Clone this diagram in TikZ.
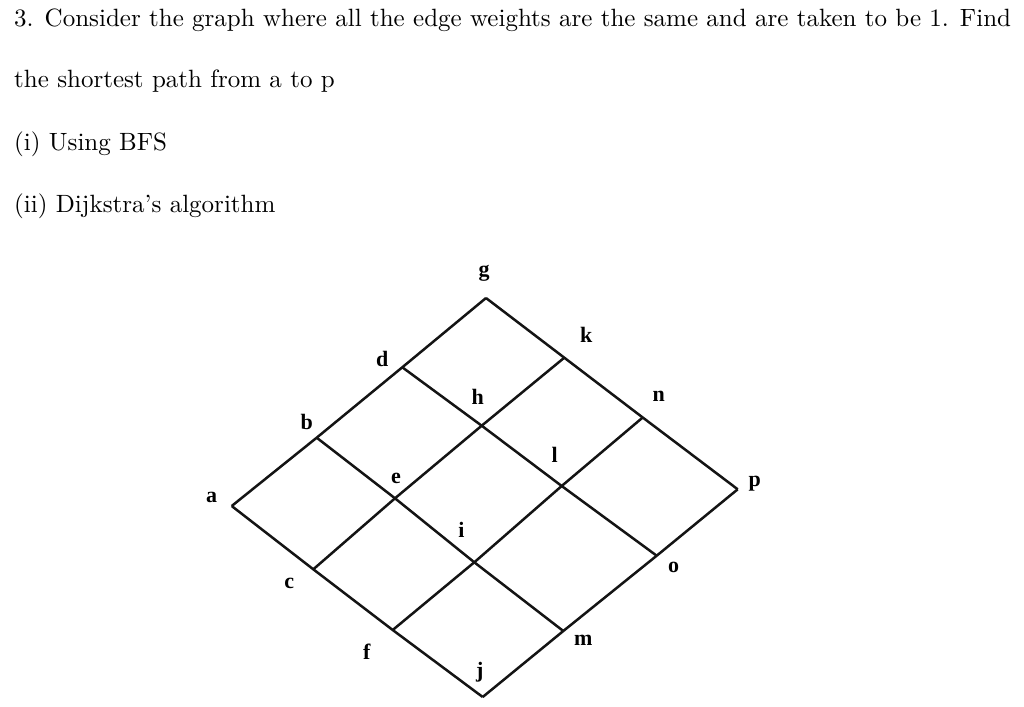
\documentclass[tikz,border=0pt]{standalone}
\usepackage{fontspec}
\usepackage{tikz}
\usetikzlibrary{calc}
\newfontfamily\labelfont{Liberation Serif}
\newfontfamily\questfont{lmroman10-regular}[Extension=.otf,Ligatures=TeX]
\definecolor{GridInk}{rgb}{0.08,0.08,0.08}

\begin{document}
\begin{tikzpicture}[x=1pt,y=-1pt,
    qline/.style={anchor=base west,inner sep=0pt,font=\questfont\fontsize{25}{30}\selectfont},
    vlabel/.style={inner sep=0pt,font=\labelfont\bfseries\fontsize{22}{26}\selectfont},
    edge/.style={line width=2.5pt,GridInk}]
      \useasboundingbox (0,0) rectangle (1024,706);
      \node[qline] (q1) at (14,27) {3. Consider the graph where all the edge weights are the same and are taken to be 1. Find};
      \node[qline] (q2) at (14,88) {the shortest path from a to p};
      \node[qline] (q3) at (14,150) {(i) Using BFS};
      \node[qline] (q4) at (14,212) {(ii) Dijkstra's algorithm};
      % vertices, with label offsets
      \foreach \n/\x/\y/\dx/\dy in {a/231.7/506/-20/-9, b/316.7/437.7/-10/-16, d/402.3/367.3/-20/-8, g/486/298/-2/-25,
          c/313.3/569.3/-24/14, e/395/498.3/1/-20, h/481.7/425.7/-4/-29, k/564.3/357.7/22/-23,
          f/392.7/630/-26/22, i/474.3/562.3/-13/-32, l/561.7/486/-7/-31, n/642.7/417.5/16/-21,
          j/482.7/697/-3/-25, m/563.3/631/20/9, o/656.7/555.7/17/12, p/737.7/489.3/17/-6}{
        \coordinate (\n) at (\x,\y);
        \node[vlabel] (\n-lab) at (\x+\dx,\y+\dy) {\n};
      }
      \draw[edge] (a)--(b)--(d)--(g);
      \draw[edge] (c)--(e)--(h)--(k);
      \draw[edge] (f)--(i)--(l)--(n);
      \draw[edge] (j)--(m)--(o)--(p);
      \draw[edge] (a)--(c)--(f)--(j);
      \draw[edge] (b)--(e)--(i)--(m);
      \draw[edge] (d)--(h)--(l)--(o);
      \draw[edge] (g)--(k)--(n)--(p);
\end{tikzpicture}
\end{document}
